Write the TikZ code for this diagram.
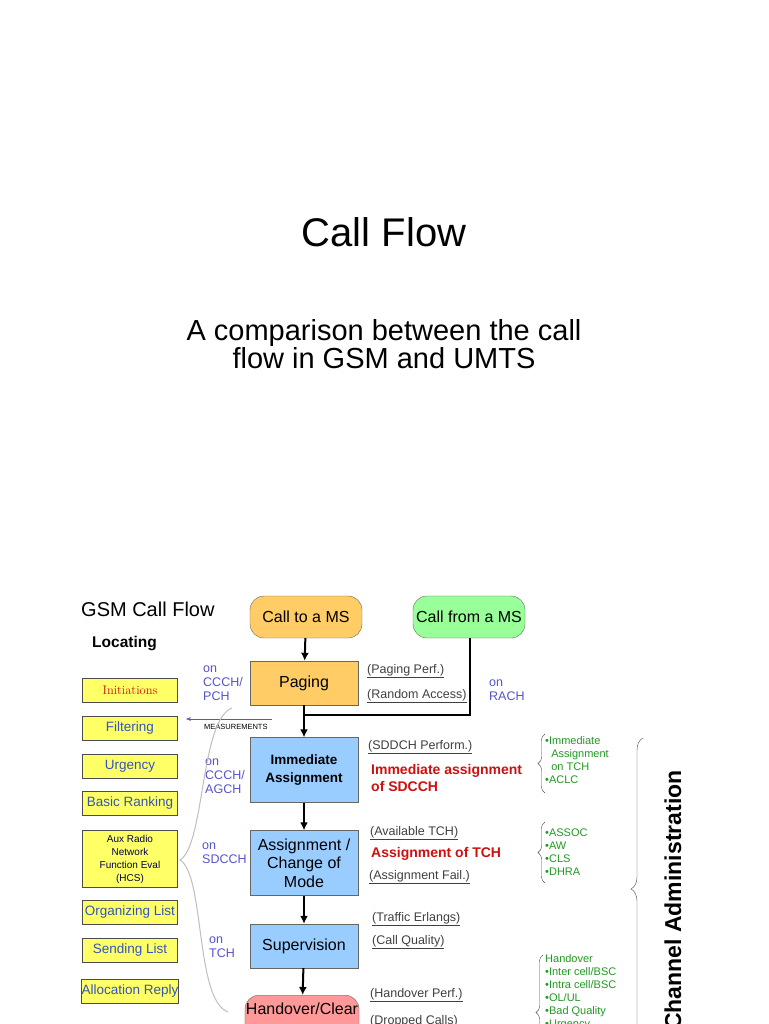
\documentclass[tikz,border=0pt]{standalone}
\usepackage{fontspec}
\setmainfont{Liberation Sans}
\usetikzlibrary{arrows.meta,decorations.pathreplacing}
\definecolor{org}{HTML}{FFCC66}
\definecolor{grn}{HTML}{99FF99}
\definecolor{blu}{HTML}{99CCFF}
\definecolor{pnk}{HTML}{FF9999}
\definecolor{yel}{HTML}{FFFF66}
\definecolor{chan}{HTML}{5555CC}
\definecolor{gtx}{HTML}{229922}
\definecolor{ltx}{HTML}{3355BB}
\definecolor{rtx}{HTML}{CC1111}
\begin{document}
\begin{tikzpicture}[x=1pt,y=-1pt,
  box/.style={draw=black!60,minimum width=108pt,align=center,font=\fontsize{16}{18.5}\selectfont,inner sep=1pt},
  rbox/.style={box,rounded corners=14pt,minimum width=112pt,minimum height=42pt},
  ybox/.style={draw=black!70,fill=yel,minimum width=95pt,minimum height=24pt,inner sep=0pt,text=ltx,font=\fontsize{13.5}{14}\selectfont,align=center},
  flow/.style={line width=2pt,-{Latex[length=8pt,width=8pt]}},
  ul/.style={anchor=west,font=\fontsize{12.5}{14}\selectfont,text=black!75,inner sep=0pt},
  ch/.style={anchor=west,align=left,text=chan,font=\fontsize{12.5}{14}\selectfont,inner sep=0pt},
  gt/.style={anchor=north west,align=left,text=gtx,font=\fontsize{11}{13}\selectfont,inner sep=0pt},
  red/.style={anchor=west,align=left,text=rtx,font=\bfseries\fontsize{14}{17}\selectfont,inner sep=0pt},
  br/.style={decorate,decoration={brace,amplitude=7pt},draw=black!70}]
\useasboundingbox (0,0) rectangle (768,1024);
\clip (0,0) rectangle (768,1024);
\fill[white] (0,0) rectangle (768,1024);
\node (title) at (384,232) {\fontsize{40}{46}\selectfont Call Flow};
\node[align=center] (sub) at (384,344) {\fontsize{29}{34}\selectfont A comparison between the call\\ \fontsize{29}{34}\selectfont flow in GSM and UMTS};
\node[anchor=west,inner sep=0pt] (gsm) at (81,609) {\fontsize{20}{22}\selectfont GSM Call Flow};
\node[anchor=west,inner sep=0pt] (loc) at (92,644) {\bfseries\fontsize{15.5}{18}\selectfont Locating};
% flow boxes
\node[rbox,fill=org] (cto) at (306,617) {Call to a MS};
\node[rbox,fill=grn] (cfrom) at (469,617) {Call from a MS};
\node[box,fill=org,minimum height=44pt] (pag) at (304,683) {Paging};
\node[box,fill=blu,minimum height=65pt,font=\bfseries\fontsize{13.5}{18}\selectfont] (ia) at (304,770) {Immediate\\Assignment};
\node[box,fill=blu,minimum height=65pt] (acm) at (304,863) {Assignment /\\Change of\\Mode};
\node[box,fill=blu,minimum height=44pt] (sup) at (304,946) {Supervision};
\node[rbox,fill=pnk,minimum width=112pt,minimum height=46pt,anchor=north] (ho) at (302,995) {Handover/Clear\\~};
\coordinate (j) at (304,715);
\coordinate (jr) at (470,715);
\draw[flow] (cto) -- (pag);
\draw[line width=2pt] (pag) -- (j);
\draw[line width=2pt] (cfrom.south -| jr) -- (jr) -- (j);
\draw[flow] (j) -- (ia);
\draw[flow] (ia) -- (acm);
\draw[flow] (acm) -- (sup);
\draw[flow] (sup) -- (ho);
% channel labels
\node[ch] (l1) at (203,683) {on\\CCCH/\\PCH};
\node[ch] (l2) at (205,776) {on\\CCCH/\\AGCH};
\node[ch] (l3) at (202,853) {on\\SDCCH};
\node[ch] (l4) at (209,947) {on\\TCH};
\node[ch] (l5) at (489,690) {on\\RACH};
\node[anchor=west,inner sep=0pt,font=\fontsize{7.5}{9}\selectfont] (meas) at (204,727) {MEASUREMENTS};
\coordinate (ma) at (272,719);
\coordinate (mb) at (186,719);
\draw[chan,-{Stealth[length=5pt]}] (ma) -- (mb);
% right labels
\node[ul] (pp) at (367,671) {\underline{(Paging Perf.)}};
\node[ul] (ra) at (367,696) {\underline{(Random Access)}};
\node[ul] (sd) at (368,747) {\underline{(SDDCH Perform.)}};
\node[red] (ias) at (371,778) {Immediate assignment\\of SDCCH};
\node[ul] (av) at (370,833) {\underline{(Available TCH)}};
\node[red] (at) at (371,854) {Assignment of TCH};
\node[ul] (af) at (369,877) {\underline{(Assignment Fail.)}};
\node[ul] (te) at (372,919) {\underline{(Traffic Erlangs)}};
\node[ul] (cq) at (372,942) {\underline{(Call Quality)}};
\node[ul] (hp) at (370,995) {\underline{(Handover Perf.)}};
\node[ul] (dc) at (370,1022) {\underline{(Dropped Calls)}};
% green lists
\coordinate (b1t) at (545,734); \coordinate (b1b) at (545,793);
\draw[br] (b1b) -- (b1t);
\node[gt] (g1) at (545,736) {•Immediate\\\ \ Assignment\\\ \ on TCH\\•ACLC};
\coordinate (b2t) at (545,822); \coordinate (b2b) at (545,883);
\draw[br] (b2b) -- (b2t);
\node[gt] (g2) at (545,829) {•ASSOC\\•AW\\•CLS\\•DHRA};
\coordinate (b3t) at (543,955); \coordinate (b3b) at (543,1070);
\draw[br] (b3b) -- (b3t);
\node[gt] (g3) at (545,954) {Handover\\•Inter cell/BSC\\•Intra cell/BSC\\•OL/UL\\•Bad Quality\\•Urgency};
% big brace
\coordinate (bbt) at (643,738); \coordinate (bbb) at (643,1040);
\draw[decorate,decoration={brace,amplitude=12pt},draw=black!70] (bbb) -- (bbt);
\node[rotate=90,anchor=west,inner sep=0pt,font=\bfseries\fontsize{23}{26}\selectfont] (ca) at (673,1030) {Channel Administration};
% yellow boxes
\node[ybox,text=rtx,font=\fontfamily{lmr}\fontsize{12.5}{14}\selectfont] (y1) at (130,690) {Initiations};
\node[ybox] (y2) at (130,728) {Filtering};
\node[ybox] (y3) at (130,766) {Urgency};
\node[ybox] (y4) at (130,803) {Basic Ranking};
\node[ybox,minimum height=57pt,font=\fontsize{10}{13}\selectfont,text=black!70!blue] (y5) at (130,859) {Aux Radio\\Network\\Function Eval\\(HCS)};
\node[ybox] (y6) at (130,912) {Organizing List};
\node[ybox] (y7) at (130,950) {Sending List};
\node[ybox] (y8) at (130,991) {Allocation Reply};
% gray curve brace
\coordinate (ga) at (232,708); \coordinate (gm) at (180,860); \coordinate (gb) at (228,1012);
\draw[black!25,line width=1pt] (ga) .. controls (200,720) and (205,845) .. (gm) .. controls (205,875) and (195,1000) .. (gb);
\end{tikzpicture}
\end{document}
